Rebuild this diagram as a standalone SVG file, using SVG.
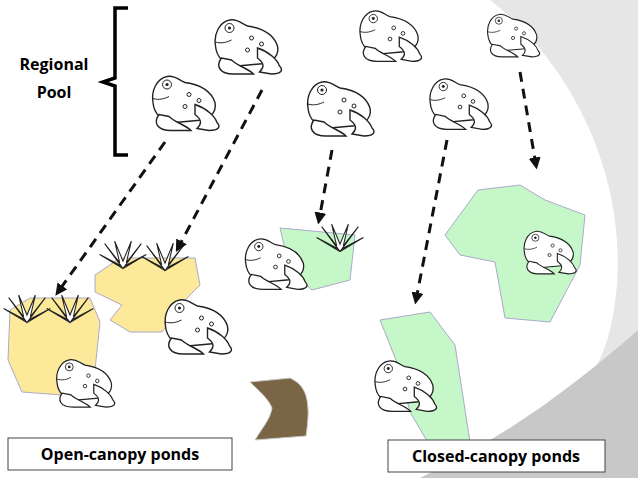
<svg xmlns="http://www.w3.org/2000/svg" width="638" height="478" viewBox="0 0 638 478">
<defs>
<style>
.pond{stroke:#aac;stroke-width:1}
.dash{stroke:#111;stroke-width:3;stroke-dasharray:10,7;fill:none}
.lbl{font-family:"Open Sans","Liberation Sans",Arial,sans-serif;font-weight:bold;font-size:16px;fill:#000}
.frog{fill:#fff;stroke:#222;stroke-width:1.4}
</style>
<marker id="ah" markerWidth="4" markerHeight="4" refX="2.5" refY="2" orient="auto" markerUnits="strokeWidth"><path d="M0,0 L4,2 L0,4 Z" fill="#111"/></marker>
<symbol id="frog" viewBox="0 0 80 70">
<path class="frog" d="M8,38 C6,26 12,14 22,12 C30,10 34,16 40,18 C54,20 66,26 70,38 C72,48 64,56 52,56 L30,58 C18,58 9,50 8,38 Z"/>
<path class="frog" d="M14,50 C8,58 12,66 26,66 L46,66 C40,60 30,58 24,52 Z"/>
<path class="frog" d="M50,40 C62,44 70,52 72,58 C76,62 74,66 64,66 L52,64 C56,60 58,56 50,50 Z"/>
<circle cx="22" cy="20" r="4.5" fill="#fff" stroke="#222"/><circle cx="22" cy="20" r="1.6" fill="#222"/>
<path d="M8,34 C14,36 20,34 24,32" fill="none" stroke="#222"/>
<circle cx="44" cy="30" r="2" fill="none" stroke="#222"/><circle cx="54" cy="36" r="2" fill="none" stroke="#222"/><circle cx="40" cy="42" r="2" fill="none" stroke="#222"/>
</symbol>
<symbol id="plant" viewBox="0 0 60 35">
<path d="M30,35 L8,5 L26,28 L20,2 L30,26 L40,2 L34,28 L52,5 Z M30,35 L2,18 L28,32 M30,35 L58,18 L32,32" fill="#fff" stroke="#222" stroke-width="1.3"/>
</symbol>
</defs>
<rect width="638" height="478" fill="#fff"/>
<path d="M490,0 C580,70 640,200 610,330 C590,410 520,460 420,478 L638,478 L638,0 Z" fill="#e6e6e6"/>
<path d="M638,330 C570,390 500,440 420,478 L638,478 Z" fill="#c8c8c8"/>
<g id="bracket"><path d="M128,8 L115,8 L115,78 L103,82 L115,86 L115,155 L128,155" fill="none" stroke="#000" stroke-width="3.5"/>
<text class="lbl" x="54" y="70" text-anchor="middle" font-size="19">Regional</text><text class="lbl" x="54" y="98" text-anchor="middle" font-size="19">Pool</text></g>
<g id="ponds">
<polygon class="pond" fill="#fde99a" points="10,310 30,298 90,298 100,322 95,370 62,395 22,392 8,360"/>
<polygon class="pond" fill="#fde99a" points="95,275 120,258 195,258 200,285 185,300 162,332 130,332 110,320 122,305 95,292"/>
<polygon class="pond" fill="#c6f7c8" points="280,228 355,235 350,280 312,290 290,270"/>
<polygon class="pond" fill="#c6f7c8" points="445,235 478,190 520,185 545,200 585,215 580,265 550,322 505,318 495,262 460,255"/>
<polygon class="pond" fill="#c6f7c8" points="380,320 430,312 455,345 470,442 430,446 410,412 400,370"/>
<path d="M250,382 L290,378 C305,385 312,398 306,436 L255,440 C262,428 270,420 272,408 C268,398 258,390 250,382 Z" fill="#7a6645" stroke="#ccc"/>
</g>
<g id="plants">
<use href="#plant" x="2" y="292" width="50" height="32"/><use href="#plant" x="45" y="292" width="50" height="32"/>
<use href="#plant" x="98" y="238" width="50" height="32"/><use href="#plant" x="140" y="240" width="50" height="32"/>
<use href="#plant" x="315" y="222" width="50" height="30"/>
</g>
<g id="frogs">
<use href="#frog" x="200" y="8" width="95" height="70"/>
<use href="#frog" x="145" y="62" width="80" height="75"/>
<use href="#frog" x="350" y="0" width="80" height="65"/>
<use href="#frog" x="478" y="5" width="70" height="55" style="--c:#464"/>
<use href="#frog" x="300" y="70" width="80" height="70"/>
<use href="#frog" x="420" y="68" width="80" height="65"/>
<use href="#frog" x="238" y="228" width="75" height="65"/>
<use href="#frog" x="150" y="288" width="95" height="70"/>
<use href="#frog" x="512" y="222" width="75" height="55"/>
<use href="#frog" x="50" y="345" width="70" height="70"/>
<use href="#frog" x="365" y="350" width="80" height="65"/>
</g>
<g id="connectors">
<line class="dash" x1="165" y1="142" x2="58" y2="292" marker-end="url(#ah)"/>
<line class="dash" x1="262" y1="90" x2="178" y2="248" marker-end="url(#ah)"/>
<line class="dash" x1="332" y1="150" x2="319" y2="220" marker-end="url(#ah)"/>
<line class="dash" x1="447" y1="140" x2="416" y2="300" marker-end="url(#ah)"/>
<line class="dash" x1="520" y1="72" x2="536" y2="165" marker-end="url(#ah)"/>
</g>
<g id="labels">
<rect x="8" y="438" width="224" height="32" fill="#fff" stroke="#444"/>
<text class="lbl" x="120" y="460" text-anchor="middle">Open-canopy ponds</text>
<rect x="388" y="440" width="217" height="32" fill="#fff" stroke="#444"/>
<text class="lbl" x="496" y="462" text-anchor="middle">Closed-canopy ponds</text>
</g>
</svg>
